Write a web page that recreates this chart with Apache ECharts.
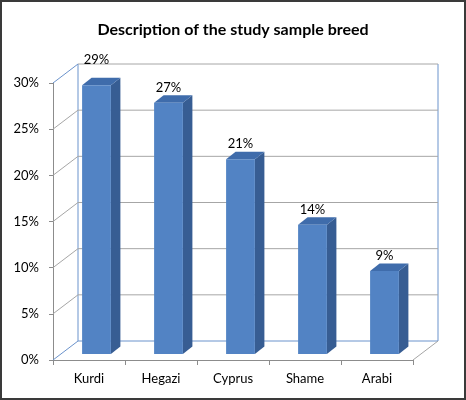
<!DOCTYPE html>
<html>
<head>
<meta charset="utf-8">
<script src="https://cdn.jsdelivr.net/npm/echarts@6/dist/echarts.min.js"></script>
<style>
html,body{margin:0;padding:0;background:#fff;}
#chart{width:466px;height:400px;}
</style>
</head>
<body>
<div id="chart"></div>
<script>
const categories = ['Kurdi', 'Hegazi', 'Cyprus', 'Shame', 'Arabi'];
const values = [29.1, 27.2, 21.1, 14.0, 9.0];
const yTicks = [0, 5, 10, 15, 20, 25, 30];
const titleText = 'Description of the study sample breed';

const FONT = 'Lato, "Open Sans", sans-serif';
const DX = 25, DY = -19;      // wall depth
const OX = 7.5, OY = -6;      // bar front offset into depth
const BX = 9.5, BY = -7.5;    // bar depth
const FRONT = '#5283c4', TOP = '#3f6cab', SIDE = '#375d93';
const WALL_BLUE = '#6b93cc', GRID_GRAY = '#a6a6a6', AXIS_GRAY = '#8c8c8c';
const labelLift = [10, 0, 0, 0, 0];

const chart = echarts.init(document.getElementById('chart'), null, {renderer: 'canvas'});

function wallItem(params, api) {
  const v = api.value(1);
  const cs = params.coordSys;
  const xL = cs.x, xR = cs.x + cs.width;
  const y = api.coord([0, v])[1];
  const yMax = api.coord([0, yTicks[yTicks.length - 1]])[1];
  const isEdge = (v === yTicks[0] || v === yTicks[yTicks.length - 1]);
  const children = [];
  children.push({type: 'line', shape: {x1: xL + DX, y1: y + DY, x2: xR + DX, y2: y + DY},
    style: {stroke: v === 0 ? WALL_BLUE : GRID_GRAY, lineWidth: 1}});
  children.push({type: 'line', shape: {x1: xL, y1: y, x2: xL + DX, y2: y + DY},
    style: {stroke: isEdge ? WALL_BLUE : GRID_GRAY, lineWidth: 1}});
  if (v === 0) {
    children.push({type: 'line', shape: {x1: xR, y1: y, x2: xR + DX, y2: y + DY},
      style: {stroke: GRID_GRAY, lineWidth: 1}});
    children.push({type: 'line', shape: {x1: xL + DX, y1: y + DY, x2: xL + DX, y2: yMax + DY},
      style: {stroke: WALL_BLUE, lineWidth: 1}});
    children.push({type: 'line', shape: {x1: xR + DX, y1: y + DY, x2: xR + DX, y2: yMax + DY},
      style: {stroke: WALL_BLUE, lineWidth: 1}});
  }
  return {type: 'group', children: children};
}

function barItem(params, api) {
  const i = api.value(0);
  const v = api.value(1);
  const top = api.coord([i, v]);
  const bot = api.coord([i, 0]);
  const w = api.size([1, 0])[0] * 0.4;
  const cx = top[0] + OX;
  const x0 = cx - w / 2, x1 = cx + w / 2;
  const ft = top[1] + OY, fb = bot[1] + OY;
  return {
    type: 'group',
    children: [
      {type: 'polygon', shape: {points: [[x1, ft], [x1 + BX, ft + BY], [x1 + BX, fb + BY], [x1, fb]]},
        style: {fill: SIDE}},
      {type: 'polygon', shape: {points: [[x0, ft], [x0 + BX, ft + BY], [x1 + BX, ft + BY], [x1, ft]]},
        style: {fill: TOP}},
      {type: 'rect', shape: {x: x0, y: ft, width: w, height: fb - ft},
        style: {fill: FRONT}},
      {type: 'text', x: cx, y: ft - 15 - labelLift[i],
        style: {text: Math.round(v) + '%', fill: '#000', font: '13px ' + FONT,
          textAlign: 'center', textVerticalAlign: 'middle'}}
    ]
  };
}

chart.setOption({
  animation: false,
  backgroundColor: '#fff',
  title: {
    text: titleText, left: 'center', top: 17,
    textStyle: {fontFamily: FONT, fontSize: 16, fontWeight: 'bold', color: '#000'}
  },
  graphic: [{
    type: 'rect', shape: {x: 1, y: 1, width: 464, height: 398},
    style: {fill: 'none', stroke: '#3a3a3a', lineWidth: 2}, z: 100
  }],
  grid: {left: 53, right: 53, top: 83, bottom: 40, containLabel: false},
  xAxis: {
    type: 'category', data: categories,
    axisLine: {lineStyle: {color: AXIS_GRAY}},
    axisTick: {show: true, length: 5, lineStyle: {color: AXIS_GRAY}},
    axisLabel: {color: '#000', fontFamily: FONT, fontSize: 13, margin: 12},
    splitLine: {show: false}
  },
  yAxis: {
    type: 'value', min: 0, max: 30, interval: 5,
    axisLine: {show: true, lineStyle: {color: AXIS_GRAY}},
    axisTick: {show: true, length: 4, lineStyle: {color: AXIS_GRAY}},
    axisLabel: {color: '#000', fontFamily: FONT, fontSize: 13, margin: 14, formatter: '{value}%'},
    splitLine: {show: false}
  },
  series: [
    {type: 'custom', renderItem: wallItem, data: yTicks.map(v => [0, v]), z: 1, silent: true},
    {type: 'custom', renderItem: barItem, data: values.map((v, i) => [i, v]), z: 5}
  ]
});
</script>
</body>
</html>
